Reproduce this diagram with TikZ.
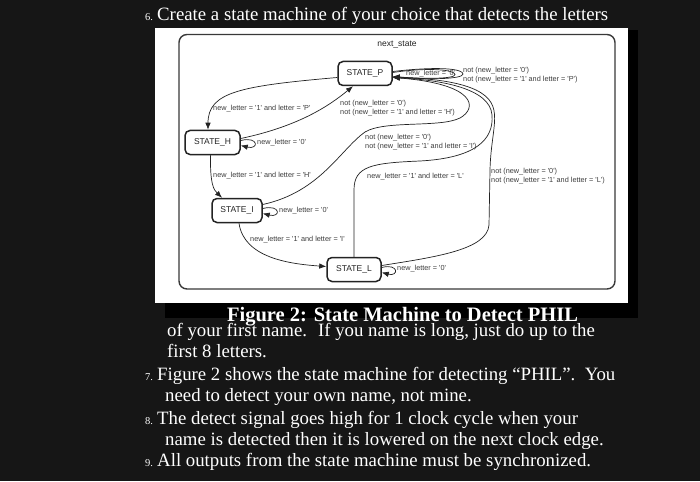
\documentclass[tikz,border=0pt]{standalone}
\usepackage{fontspec}
\setmainfont{Liberation Serif}
\newfontfamily\arialf{Liberation Sans}
\usetikzlibrary{arrows.meta}
\definecolor{bgdark}{RGB}{22,22,22}
\definecolor{ink}{RGB}{35,35,35}
\definecolor{lbltext}{RGB}{60,60,60}
\begin{document}
\begin{tikzpicture}[x=1pt,y=-1pt,
  state/.style={draw=ink, line width=1.5pt, rounded corners=5pt, minimum width=#1, minimum height=24pt, inner sep=0pt, font=\arialf\fontsize{8.5}{10}\selectfont, text=ink},
  lbl/.style={anchor=west, inner sep=0pt, font=\arialf\fontsize{7.3}{8.8}\selectfont, text=lbltext, align=left},
  edge/.style={draw=ink, line width=0.7pt, -{Latex[length=7pt,width=5.5pt]}},
  body/.style={anchor=base west, inner sep=0pt, text=white, font=\fontsize{18.8}{22}\selectfont},
  num/.style={anchor=base west, inner sep=0pt, text=white, font=\fontsize{10.5}{12}\selectfont},
  captext/.style={anchor=base, inner sep=0pt, text=white, font=\bfseries\fontsize{20.5}{24}\selectfont}
]
\fill[bgdark] (0,0) rectangle (700,481);
\useasboundingbox (0,0) rectangle (700,481);
% panel with shadow
\fill[black] (165,30) rectangle (638,318);
\fill[white] (155,28) rectangle (628,303);
\draw[draw=ink!90, line width=1.4pt, rounded corners=8pt] (179,34.5) rectangle (615,289);
\node[inner sep=0pt, font=\arialf\fontsize{8.5}{10}\selectfont, text=ink] (title) at (397,45) {next\_state};

% states
\node[state=54pt] (P) at (365,73.5) {STATE\_P};
\node[state=55pt] (H) at (212.5,142.5) {STATE\_H};
\node[state=50pt] (I) at (237,210.5) {STATE\_I};
\node[state=54pt] (L) at (354,269.5) {STATE\_L};

% P transitions
\draw[edge] ([yshift=-4pt]P.west) .. controls (240,86) and (208,92) .. ([xshift=-4.5pt]H.north);
\draw[edge] ([yshift=2pt]P.east) .. controls (440,66) and (463,69) .. (463,74) .. controls (463,79) and (430,80) .. ([yshift=-3pt]P.east);
\draw[edge] ([yshift=1pt]P.east) .. controls (430,67) and (455,70) .. (455,74.5) .. controls (455,79) and (425,79) .. ([yshift=-3pt]P.east);
\node[lbl] (lp0) at (406,74) {new\_letter = '0'};
\node[lbl] (lpn) at (463,75.5) {not (new\_letter = '0')\\not (new\_letter = '1' and letter = 'P')};
\node[lbl] (lph) at (213,109) {new\_letter = '1' and letter = 'P'};

% H transitions
\draw[edge] ([yshift=4pt]H.east) .. controls (300,126) and (330,105) .. ([xshift=-12pt]P.south);
\draw[edge] ([yshift=2pt]H.east) .. controls (259,136) and (259,150) .. ([yshift=-3pt]H.east);
\draw[edge] ([xshift=-2pt]H.south) .. controls (210,185) and (214,190) .. ([xshift=-15pt]I.north);
\node[lbl] (lhp) at (340,108.5) {not (new\_letter = '0')\\not (new\_letter = '1' and letter = 'H')};
\node[lbl] (lh0) at (257,143) {new\_letter = '0'};
\node[lbl] (lhi) at (213,176) {new\_letter = '1' and letter = 'H'};

% I transitions
\draw[edge] ([yshift=6pt]I.east) .. controls (320,192) and (340,150) .. (365,132) .. controls (385,120) and (440,128) .. (460,118) .. controls (478,108) and (476,84) .. ([yshift=-4pt]P.east);
\draw[edge] ([yshift=2pt]I.east) .. controls (281,204) and (281,218) .. ([yshift=-3pt]I.east);
\draw[edge] ([xshift=2pt]I.south) .. controls (244,258) and (290,264) .. ([yshift=3pt]L.west);
\node[lbl] (lip) at (365,142.5) {not (new\_letter = '0')\\not (new\_letter = '1' and letter = 'I')};
\node[lbl] (li0) at (279,211) {new\_letter = '0'};
\node[lbl] (lil) at (250,240) {new\_letter = '1' and letter = 'I'};

% L transitions
\draw[edge] (L.north) -- (354,190) .. controls (354,166) and (372,163) .. (420,161) .. controls (475,158) and (494,140) .. (492,115) .. controls (490,88) and (440,80) .. ([yshift=-4pt]P.east);
\draw[edge] ([yshift=4pt]L.east) .. controls (435,257) and (487,250) .. (489,225) -- (490,170) .. controls (491,125) and (506,105) .. (476,90) .. controls (455,80) and (420,78) .. ([yshift=-4pt]P.east);
\draw[edge] ([yshift=2pt]L.east) .. controls (399,263) and (399,277) .. ([yshift=-3pt]L.east);
\node[lbl] (llp) at (367,177) {new\_letter = '1' and letter = 'L'};
\node[lbl] (lln) at (491,176.5) {not (new\_letter = '0')\\not (new\_letter = '1' and letter = 'L')};
\node[lbl] (ll0) at (397,269) {new\_letter = '0'};

% page text
\node[num] (n6) at (145,21) {6.};
\node[body] (t6) at (157,21) {Create a state machine of your choice that detects the letters};
\node[captext] (caption) at (402.5,321.5) {Figure 2: State Machine to Detect PHIL};
\node[body] (t6b) at (167,336.5) {of your first name.~ If you name is long, just do up to the};
\node[body] (t6c) at (167,357) {first 8 letters.};
\node[num] (n7) at (145,380.5) {7.};
\node[body] (t7) at (157,380.5) {Figure 2 shows the state machine for detecting ``PHIL''.~ You};
\node[body] (t7b) at (165,401.5) {need to detect your own name, not mine.};
\node[num] (n8) at (145,424) {8.};
\node[body] (t8) at (157,424) {The detect signal goes high for 1 clock cycle when your};
\node[body] (t8b) at (165,445) {name is detected then it is lowered on the next clock edge.};
\node[num] (n9) at (145,466.5) {9.};
\node[body] (t9) at (157,466.5) {All outputs from the state machine must be synchronized.};
\end{tikzpicture}
\end{document}
